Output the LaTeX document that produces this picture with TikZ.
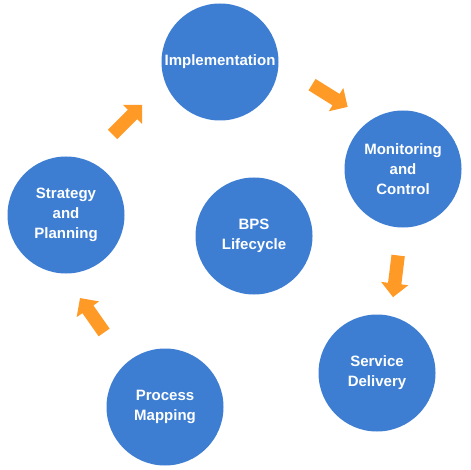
\documentclass[tikz,border=0pt]{standalone}
\usepackage{fontspec}
\setmainfont{Liberation Sans}
\usetikzlibrary{shapes,positioning,calc}
\definecolor{Blue}{HTML}{3D7ED3}
\definecolor{Orange}{HTML}{FF9A26}

\begin{document}
\begin{tikzpicture}
[x=1pt,y=-1pt,
stage/.style={circle,fill=Blue,minimum size=117pt,inner sep=0mm,align=center,
    text=white,font=\fontsize{15}{20}\selectfont\bfseries},
flow/.style={single arrow,fill=Orange,draw=none,minimum height=42pt,
    text height=6.5pt,text depth=6.5pt,text width=0pt,
    single arrow head extend=7pt,inner sep=0pt}]

\useasboundingbox (0,0) rectangle (470,470);

%% the cycle
\node[stage] (impl) at (220,62) {Implementation};
\node[stage] (monitor) at (403,169) {Monitoring\\and\\Control};
\node[stage] (service) at (377,373) {Service\\Delivery};
\node[stage] (mapping) at (165,407) {Process\\Mapping};
\node[stage] (strategy) at (66,215) {Strategy\\and\\Planning};
%% centre
\node[stage] (bps) at (254,236) {BPS\\Lifecycle};

%% block arrows
\node[flow,rotate=45] (a1) at (125,122) {};
\node[flow,rotate=-32] (a2) at (327,94) {};
\node[flow,rotate=-97] (a3) at (396,273) {};
\node[flow,rotate=125] (a4) at (94,318) {};

\end{tikzpicture}
\end{document}
